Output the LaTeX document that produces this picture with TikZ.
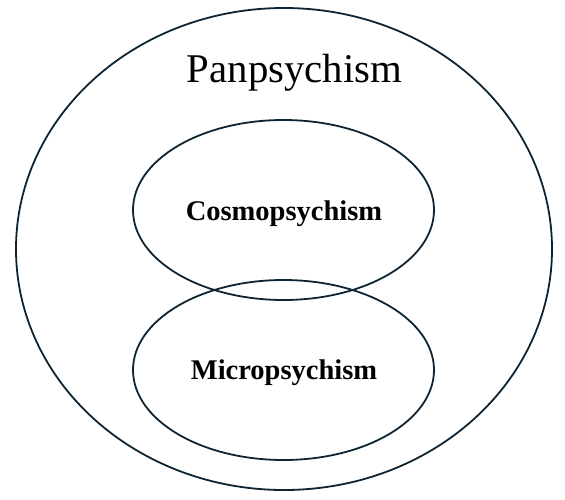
\documentclass[tikz,border=0pt]{standalone}
\usepackage{fontspec}
\setmainfont{Liberation Serif}
\usepackage{xcolor}
\usetikzlibrary{shapes,positioning}

\definecolor{ringline}{HTML}{0E2433}

\tikzset{
    ring/.style={
        draw=ringline,
        line width=1.8pt,
        ellipse,
        inner sep=0pt
    }
}

\begin{document}
\begin{tikzpicture}[x=1pt,y=-1pt]
                \useasboundingbox (0,0) rectangle (565,499);

                \node[
                    ring,
                    minimum width=536pt,
                    minimum height=482pt
                    ] (pan) at (284,249) {};

                \node[
                    anchor=base,
                    font=\fontsize{40.8}{41}\selectfont
                    ] (pantext) at (294.5,82) {Panpsychism};

                \node[
                    ring,
                    minimum width=301pt,
                    minimum height=180pt
                    ] (cosmo) at (283.5,210) {};

                \node[
                    anchor=base,
                    font=\fontsize{28.5}{29}\selectfont\bfseries
                    ] (cosmotext) at (284,220) {Cosmopsychism};

                \node[
                    ring,
                    minimum width=301pt,
                    minimum height=180pt
                    ] (micro) at (283.5,370) {};

                \node[
                    anchor=base,
                    font=\fontsize{28.5}{29}\selectfont\bfseries
                    ] (microtext) at (284,379) {Micropsychism};

            \end{tikzpicture}
\end{document}
